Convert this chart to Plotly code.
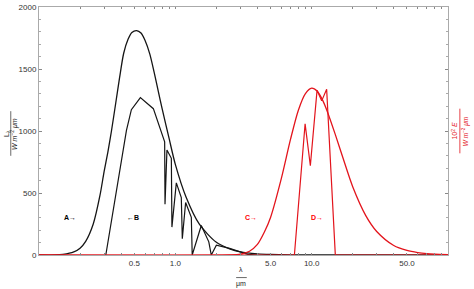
import math
import plotly.graph_objects as go

# ---- data ----
sun_bb_wl = [0.10, 0.13, 0.15, 0.18, 0.20, 0.22, 0.25, 0.28, 0.30, 0.32, 0.34, 0.366, 0.39, 0.418,
             0.45, 0.48, 0.52, 0.56, 0.60, 0.65, 0.70, 0.75, 0.80, 0.90, 1.0, 1.2, 1.5, 2.0, 2.5,
             3.0, 4.0, 5.0, 7.0, 10.0, 100.0]
sun_bb_val = [0, 0, 5, 25, 55, 110, 250, 480, 670, 830, 1000, 1230, 1430, 1627,
              1740, 1795, 1810, 1790, 1730, 1620, 1470, 1320, 1180, 940, 731, 466, 249, 102, 50,
              25, 9, 4, 1, 0.3, 0]

sun_sfc_wl = [0.309, 0.369, 0.438, 0.476, 0.554, 0.69, 0.835, 0.84, 0.868, 0.935, 0.944, 1.017,
              1.106, 1.125, 1.19, 1.31, 1.33, 1.55, 1.76, 1.835, 2.0, 2.5, 3.0, 3.4, 4.0]
sun_sfc_val = [0, 508, 1005, 1172, 1270, 1180, 913, 410, 847, 780, 225, 582,
               463, 132, 423, 304, 0, 238, 106, 0, 79, 53, 25, 5, 0]

earth_bb_wl = [0.1, 2.5, 3.0, 3.5, 4.0, 4.5, 5.0, 6.0, 7.0, 8.0, 9.0, 10.0, 11.0, 12.0, 13.0,
               15.0, 17.0, 20.0, 25.0, 30.0, 40.0, 50.0, 60.0, 70.0, 80.0, 100.0]
earth_bb_val = [0, 0, 6, 30, 85, 185, 305, 620, 934, 1170, 1302, 1345, 1320, 1251, 1160,
                963, 780, 551, 316, 190, 77, 37, 19.5, 11, 7, 3]

earth_toa_wl = [0.1, 7.47, 8.95, 9.78, 10.95, 11.84, 12.88, 14.91, 100.0]
earth_toa_val = [0, 0, 1058, 720, 1328, 1243, 1336, 0, 0]

label_text = ["A\u2192", "\u2190B", "C\u2192", "D\u2192"]
label_wl = [0.170, 0.487, 3.6, 10.88]
label_val = [300, 300, 300, 300]
label_col = ["black", "black", "red", "red"]

x_tickvals = [0.5, 1.0, 5.0, 10.0, 50.0]
x_ticktext = ["0.5", "1.0", "5.0", "10.0", "50.0"]

RED = "#e3141c"
BLK = "#151515"
FONT = "Liberation Sans"

fig = go.Figure()
fig.add_trace(go.Scatter(x=sun_bb_wl, y=sun_bb_val, mode="lines",
                         line=dict(color=BLK, width=1.3, shape="spline", smoothing=0.8)))
fig.add_trace(go.Scatter(x=sun_sfc_wl, y=sun_sfc_val, mode="lines",
                         line=dict(color=BLK, width=1.2)))
fig.add_trace(go.Scatter(x=earth_bb_wl, y=earth_bb_val, mode="lines",
                         line=dict(color=RED, width=1.3, shape="spline", smoothing=0.8)))
fig.add_trace(go.Scatter(x=earth_toa_wl, y=earth_toa_val, mode="lines",
                         line=dict(color=RED, width=1.2)))

for t, xw, yv, c in zip(label_text, label_wl, label_val, label_col):
    fig.add_annotation(x=math.log10(xw), y=yv, xref="x", yref="y", text="<b>" + t + "</b>",
                       showarrow=False, font=dict(family=FONT, size=7, color=c))

# minor log tick positions
minor = []
for dec in [0.1, 1.0, 10.0]:
    for k in range(1, 10):
        minor.append(round(dec * k, 4))
minor.append(100.0)
all_ticks = sorted(set(minor + x_tickvals))
all_text = [x_ticktext[x_tickvals.index(v)] if v in x_tickvals else "" for v in all_ticks]

fig.update_layout(
    width=474, height=289,
    margin=dict(l=39, r=26, t=3, b=34),
    paper_bgcolor="white", plot_bgcolor="white",
    showlegend=False,
    font=dict(family=FONT, size=8, color="#333"),
    xaxis=dict(type="log", range=[-1, 2], tickvals=all_ticks, ticktext=all_text,
               ticks="inside", ticklen=2, tickcolor="#888", showgrid=False,
               showline=True, linecolor="#aaa", linewidth=1, mirror="ticks",
               zeroline=False, tickfont=dict(size=8, color="#333")),
    yaxis=dict(range=[0, 2000], tickvals=[0, 500, 1000, 1500, 2000],
               ticks="inside", ticklen=3, tickcolor="#888", showgrid=False,
               ticklabeloverflow="allow",
               minor=dict(dtick=100, ticks="inside", ticklen=2, tickcolor="#aaa"),
               showline=True, linecolor="#aaa", linewidth=1, mirror="ticks",
               zeroline=False, tickfont=dict(size=8, color="#333")),
)

# axis titles as fractions
fig.add_annotation(x=-0.077, y=0.49, xref="paper", yref="paper", text="L<sub>\u03bb</sub>",
                   textangle=-90, showarrow=False, font=dict(family=FONT, size=7, color="#222"),
                   xanchor="center", yanchor="middle")
fig.add_annotation(x=-0.06, y=0.49, xref="paper", yref="paper",
                   text="<i>W m</i><sup>\u22122</sup> <i>\u03bcm</i>",
                   textangle=-90, showarrow=False, font=dict(family=FONT, size=7, color="#222"),
                   xanchor="center", yanchor="middle")
fig.add_shape(type="line", xref="paper", yref="paper", x0=-0.069, x1=-0.069, y0=0.40, y1=0.58,
              line=dict(color="#444", width=0.8))

fig.add_annotation(x=1.016, y=0.5, xref="paper", yref="paper", text="10<sup>2</sup> <i>E</i>",
                   textangle=-90, showarrow=False, font=dict(family=FONT, size=7, color=RED),
                   xanchor="center", yanchor="middle")
fig.add_annotation(x=1.042, y=0.5, xref="paper", yref="paper",
                   text="<i>W m</i><sup>\u22122</sup> <i>\u03bcm</i>",
                   textangle=-90, showarrow=False, font=dict(family=FONT, size=6.5, color=RED),
                   xanchor="center", yanchor="middle")
fig.add_shape(type="line", xref="paper", yref="paper", x0=1.029, x1=1.029, y0=0.41, y1=0.59,
              line=dict(color=RED, width=0.8))

fig.add_annotation(x=0.495, y=-0.058, xref="paper", yref="paper", text="\u03bb",
                   showarrow=False, font=dict(family=FONT, size=7, color="#222"),
                   xanchor="center", yanchor="middle")
fig.add_annotation(x=0.495, y=-0.118, xref="paper", yref="paper", text="\u03bcm",
                   showarrow=False, font=dict(family=FONT, size=7, color="#222"),
                   xanchor="center", yanchor="middle")
fig.add_shape(type="line", xref="paper", yref="paper", x0=0.482, x1=0.508, y0=-0.091, y1=-0.091,
              line=dict(color="#444", width=0.8))

fig.write_html("out.html")
